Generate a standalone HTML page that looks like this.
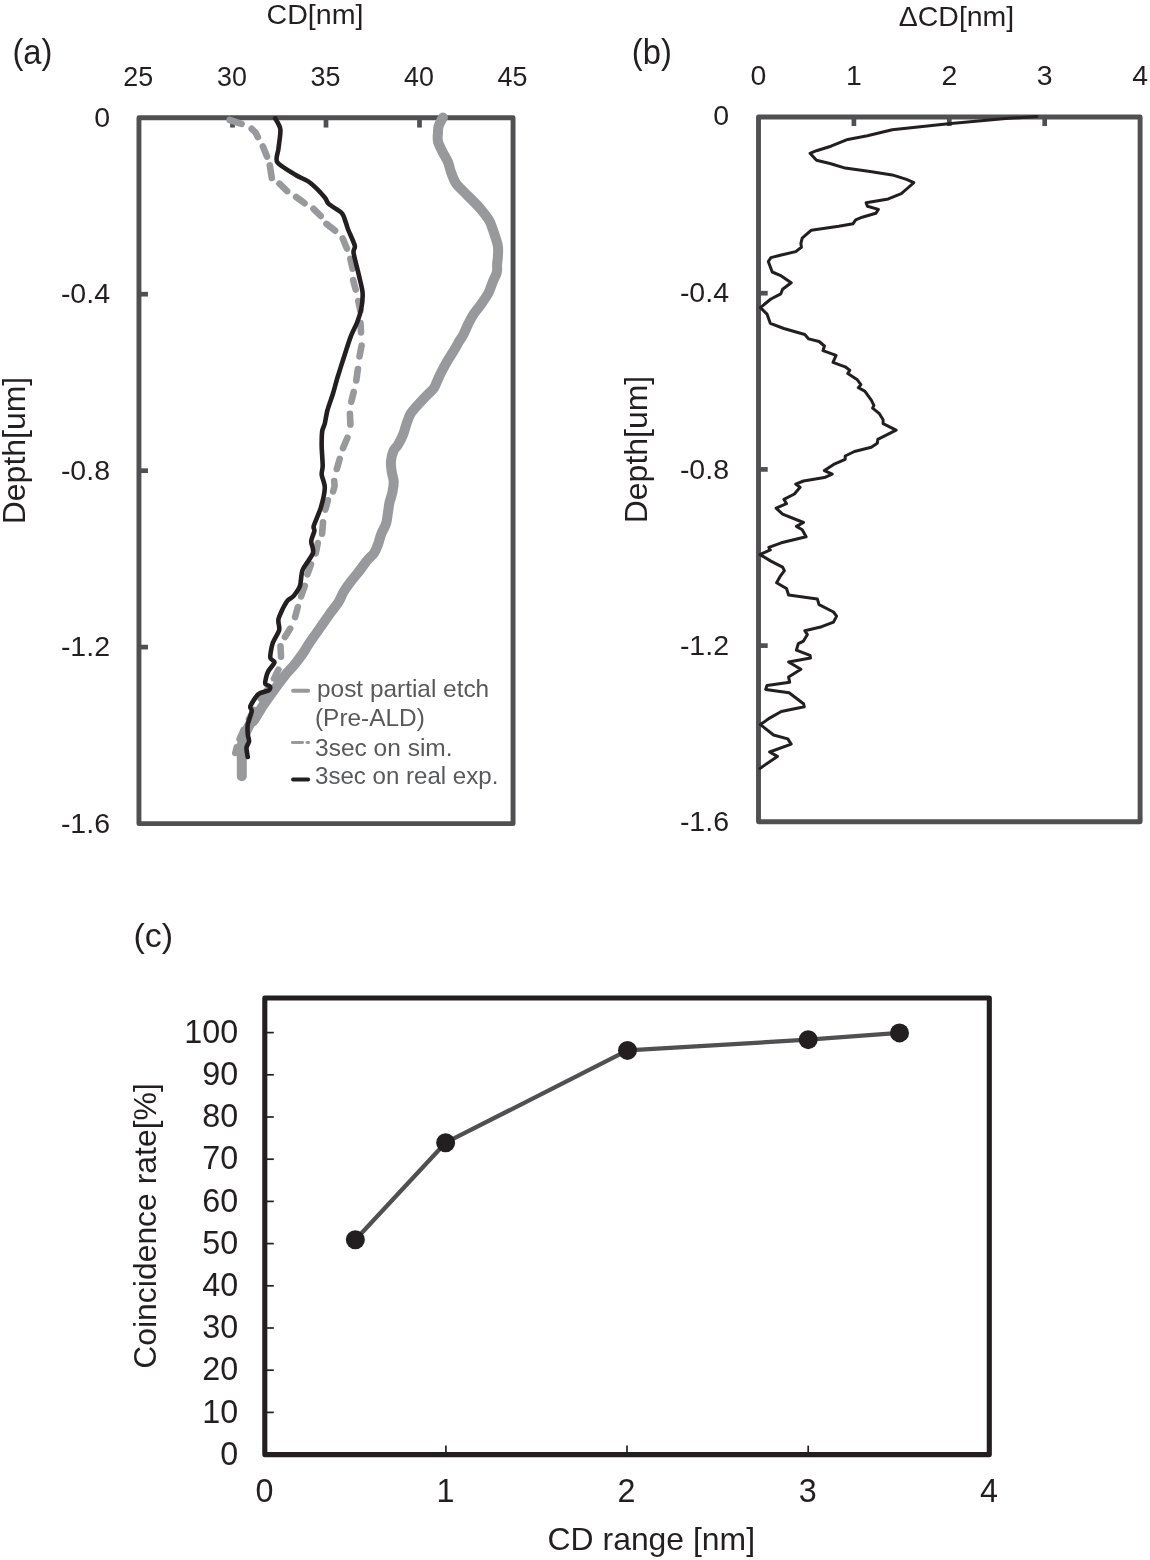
<!DOCTYPE html>
<html lang="en"><head><meta charset="utf-8"><title>Figure</title>
<style>
html,body{margin:0;padding:0;background:#fff}
svg{display:block}
text{font-family:"Liberation Sans",sans-serif}
</style></head><body>
<svg width="1150" height="1560" viewBox="0 0 1150 1560">
<rect width="1150" height="1560" fill="#fff"/>
<g id="panel-a">
<g stroke="#505053" stroke-width="4.7">
<line x1="232.5" y1="117.75" x2="232.5" y2="127.55"/>
<line x1="326.0" y1="117.75" x2="326.0" y2="127.55"/>
<line x1="419.5" y1="117.75" x2="419.5" y2="127.55"/>
<line x1="138.95" y1="294.2" x2="147.95" y2="294.2"/>
<line x1="138.95" y1="470.7" x2="147.95" y2="470.7"/>
<line x1="138.95" y1="647.1" x2="147.95" y2="647.1"/>
</g>
<rect x="138.95" y="117.75" width="374.1" height="705.9" fill="none" stroke="#505053" stroke-width="4.9" stroke-linejoin="round"/>
<path d="M442.9,117.5C442.2,118.9 439.5,123.5 438.7,125.9C437.9,128.3 438.1,129.5 438.0,132.1C437.9,134.7 437.2,138.2 438.0,141.5C438.8,144.8 440.9,148.5 442.6,152.0C444.3,155.5 446.7,158.9 448.1,162.4C449.5,165.9 449.9,169.3 451.2,172.8C452.5,176.3 454.0,180.3 455.9,183.3C457.8,186.3 460.2,188.0 462.7,190.6C465.2,193.2 467.9,195.8 471.0,198.9C474.1,202.0 478.0,205.9 481.0,209.4C484.0,212.9 487.1,217.1 488.8,219.8C490.5,222.5 490.4,222.7 491.4,225.4C492.4,228.1 493.9,232.4 495.0,235.9C496.1,239.4 497.4,242.8 497.9,246.3C498.4,249.8 498.0,253.8 497.9,256.7C497.8,259.6 497.3,261.4 497.1,264.0C496.9,266.6 497.6,269.3 496.8,272.4C496.0,275.5 493.8,279.3 492.4,282.8C491.0,286.3 490.1,289.8 488.3,293.3C486.5,296.8 483.9,300.2 481.5,303.7C479.1,307.2 476.0,310.6 473.7,314.1C471.4,317.6 469.6,321.1 467.9,324.6C466.1,328.1 464.6,332.4 463.2,335.0C461.8,337.6 461.3,337.8 459.7,340.4C458.1,343.0 455.8,347.4 453.7,350.9C451.6,354.4 449.2,357.8 447.2,361.3C445.2,364.8 443.1,368.6 441.5,371.7C439.9,374.8 438.9,377.3 437.6,380.1C436.3,382.9 435.4,386.0 433.7,388.4C432.0,390.8 429.8,392.3 427.4,394.7C425.0,397.1 422.4,399.9 419.6,403.0C416.8,406.1 412.9,410.0 410.7,413.5C408.5,417.0 407.8,420.4 406.5,423.9C405.2,427.4 404.6,430.9 403.2,434.4C401.8,437.9 399.6,442.1 398.0,444.8C396.4,447.5 394.9,447.7 393.7,450.4C392.5,453.1 391.4,457.4 391.0,460.9C390.6,464.4 391.2,467.8 391.6,471.3C392.1,474.8 393.6,478.2 393.7,481.7C393.8,485.2 393.1,488.7 392.4,492.2C391.7,495.7 390.2,499.1 389.5,502.6C388.8,506.1 388.5,509.5 387.9,513.0C387.3,516.5 387.2,520.0 386.1,523.5C385.0,527.0 382.7,530.4 381.3,533.9C379.9,537.4 379.2,541.3 378.0,544.4C376.8,547.5 376.1,550.0 374.3,552.7C372.5,555.4 369.7,557.4 367.2,560.4C364.7,563.4 362.1,567.4 359.4,570.9C356.7,574.4 353.6,577.8 351.0,581.3C348.4,584.8 345.8,588.2 343.7,591.7C341.6,595.2 340.7,598.7 338.5,602.2C336.3,605.7 333.2,609.1 330.7,612.6C328.2,616.1 325.8,619.5 323.4,623.0C321.0,626.5 318.5,630.0 316.1,633.5C313.7,637.0 311.1,640.4 308.8,643.9C306.5,647.4 304.6,650.9 302.2,654.4C299.8,657.9 296.6,662.0 294.3,664.8C292.0,667.6 290.2,669.1 288.4,671.3C286.5,673.5 285.8,674.4 283.2,677.8C280.6,681.2 276.2,687.1 272.8,691.7C269.4,696.3 266.1,701.0 263.0,705.6C259.9,710.2 256.6,716.6 254.5,719.6C252.4,722.6 251.7,721.5 250.3,723.5C249.0,725.5 247.6,728.7 246.4,731.3C245.2,733.9 243.8,736.5 243.0,739.1C242.2,741.7 242.1,743.0 241.9,746.9C241.7,750.8 241.8,757.7 241.8,762.6C241.8,767.5 241.8,774.0 241.8,776.3" fill="none" stroke="#97999c" stroke-width="10.0" stroke-linecap="round" stroke-linejoin="round"/>
<path d="M229.7,120.0L241.6,123.9M251.7,128.8L255.5,132.5L257.8,137.1M262.9,146.5L267.0,156.6M269.8,165.4L271.8,177.9M279.5,183.7L287.1,191.1M296.2,197.0L304.5,203.2M313.5,208.8L320.7,215.9M326.5,223.9L335.1,230.7M342.7,238.5L346.9,248.6M350.3,258.8L352.6,268.7M353.1,280.2L355.7,289.6M358.3,301.1L360.4,311.0M360.5,323.0L361.0,332.4M361.6,345.5L359.5,356.4M357.9,369.0L356.3,380.4M353.7,391.9L351.3,401.8M349.9,413.8L350.4,424.5M347.4,437.7L343.0,448.2M339.7,458.8L336.8,469.0M334.2,481.0L334.6,486.0L333.1,491.5M327.9,500.3L325.3,509.7M323.0,522.3L322.1,533.7M317.8,543.0L315.7,553.5M311.0,564.4L307.4,574.3M304.8,585.8L301.1,596.3M297.8,607.0L295.1,617.1M290.2,628.6L285.0,637.0M280.5,646.3L281.0,656.7M278.4,669.7L274.0,678.6M267.0,690.0L261.0,699.0M254.0,710.0L249.0,719.0M243.5,730.0L239.5,739.0M236.8,747.0L235.3,753.0" fill="none" stroke="#97999c" stroke-width="6.6" stroke-linecap="round" stroke-linejoin="round"/>
<path d="M275.2,118.3C275.9,119.8 280.0,125.5 280.4,129.6C280.8,133.7 278.8,144.8 278.4,149.1C278.0,153.4 274.9,158.7 277.3,162.2C279.7,165.7 291.7,172.4 296.1,175.2C300.5,178.0 306.6,180.0 310.4,183.0C314.2,186.0 322.4,194.6 324.8,197.4C327.2,200.2 326.4,201.8 328.7,203.9C331.0,206.0 339.4,210.6 341.7,213.0C344.0,215.4 344.8,219.9 345.7,222.2C346.6,224.5 347.1,226.9 348.3,230.0C349.5,233.1 354.1,242.7 354.8,245.7C355.5,248.7 353.2,249.1 353.5,252.2C353.8,255.3 356.5,265.4 357.4,269.1C358.3,272.8 359.3,276.8 360.0,280.0C360.7,283.2 362.4,289.2 362.6,293.0C362.8,296.8 362.0,304.9 361.3,308.7C360.6,312.5 358.8,318.0 357.4,321.7C356.0,325.4 352.6,331.6 350.9,336.1C349.2,340.6 346.1,350.3 344.4,355.7C342.7,361.1 339.4,371.3 337.8,376.5C336.2,381.7 334.0,390.3 332.6,394.8C331.2,399.3 328.4,406.6 327.4,410.4C326.4,414.2 325.5,420.7 324.8,423.5C324.1,426.3 322.6,428.2 322.2,431.3C321.8,434.4 321.6,442.4 321.7,447.0C321.8,451.6 322.7,462.0 322.7,465.7C322.7,469.4 321.4,471.9 321.7,474.8C322.0,477.7 324.9,483.5 324.8,487.8C324.7,492.1 322.4,502.3 320.9,507.4C319.4,512.5 314.7,522.6 313.8,525.7C312.9,528.8 314.7,528.8 314.4,530.9C314.1,533.0 311.4,538.4 311.2,541.3C311.0,544.2 314.1,549.2 313.0,553.0C311.9,556.8 304.3,565.6 302.6,570.0C300.9,574.4 301.2,582.2 300.0,585.7C298.8,589.2 295.2,594.0 293.5,596.1C291.8,598.2 288.9,598.5 287.0,601.3C285.1,604.1 280.2,614.2 279.1,617.0C278.0,619.8 278.4,620.2 278.4,622.0C278.4,623.8 279.9,627.5 279.1,630.4C278.3,633.3 273.8,639.9 272.6,643.5C271.4,647.1 270.0,655.2 270.3,657.7C270.6,660.2 274.8,660.6 274.5,662.4C274.2,664.2 269.3,669.3 268.2,671.3C267.1,673.3 266.5,675.7 266.1,677.4C265.7,679.1 264.8,682.7 265.3,683.9C265.8,685.1 269.5,685.6 270.0,686.5C270.5,687.4 270.3,689.4 268.7,690.4C267.1,691.4 260.7,692.2 258.3,694.3C255.9,696.4 251.3,703.8 250.4,706.1C249.5,708.4 252.0,708.9 251.7,711.3C251.4,713.7 248.3,721.2 247.8,724.3C247.3,727.4 247.6,732.5 247.8,734.8C248.0,737.1 249.3,739.6 249.1,741.3C248.9,743.0 246.7,745.7 246.5,747.8C246.3,749.9 247.6,755.8 247.8,757.0" fill="none" stroke="#231f20" stroke-width="4.6" stroke-linecap="round" stroke-linejoin="round"/>
<g fill="#231f20" font-size="28.4" text-anchor="middle">
<text x="138.3" y="85.8" textLength="29.9" lengthAdjust="spacingAndGlyphs">25</text>
<text x="231.9" y="85.8" textLength="29.9" lengthAdjust="spacingAndGlyphs">30</text>
<text x="325.4" y="85.8" textLength="29.9" lengthAdjust="spacingAndGlyphs">35</text>
<text x="418.9" y="85.8" textLength="29.9" lengthAdjust="spacingAndGlyphs">40</text>
<text x="512.4" y="85.8" textLength="29.9" lengthAdjust="spacingAndGlyphs">45</text>
</g>
<g fill="#231f20" font-size="28.5" text-anchor="end">
<text x="110" y="127.0">0</text>
<text x="110" y="303.4">-0.4</text>
<text x="110" y="479.9">-0.8</text>
<text x="110" y="656.3">-1.2</text>
<text x="110" y="832.8">-1.6</text>
</g>
<text x="315" y="23.8" font-size="28.4" text-anchor="middle" fill="#231f20" textLength="97" lengthAdjust="spacingAndGlyphs">CD[nm]</text>
<text transform="translate(25.2 450.5) rotate(-90)" font-size="31.2" text-anchor="middle" fill="#231f20" textLength="147.5" lengthAdjust="spacingAndGlyphs">Depth[um]</text>
<text x="12.4" y="64.1" font-size="34.5" fill="#231f20" textLength="40" lengthAdjust="spacingAndGlyphs">(a)</text>
<line x1="293" y1="690.7" x2="308.2" y2="690.7" stroke="#97999c" stroke-width="3.9" stroke-linecap="round"/>
<line x1="292.4" y1="742.5" x2="302.6" y2="742.5" stroke="#97999c" stroke-width="2.9" stroke-linecap="round"/>
<line x1="307" y1="742.5" x2="308.6" y2="742.5" stroke="#97999c" stroke-width="2.9" stroke-linecap="round"/>
<line x1="293" y1="779.5" x2="308.2" y2="779.5" stroke="#231f20" stroke-width="3.8" stroke-linecap="round"/>
<g fill="#58595b" font-size="24.4">
<text x="317" y="697.4">post partial etch</text>
<text x="315" y="726.1">(Pre-ALD)</text>
<text x="315" y="755.7" textLength="137.6" lengthAdjust="spacingAndGlyphs">3sec on sim.</text>
<text x="315" y="784.4" textLength="183.4" lengthAdjust="spacingAndGlyphs">3sec on real exp.</text>
</g>
</g>
<g id="panel-b">
<g stroke="#505053" stroke-width="4.7">
<line x1="853.9" y1="117.0" x2="853.9" y2="126.0"/>
<line x1="949.3" y1="117.0" x2="949.3" y2="126.0"/>
<line x1="1044.7" y1="117.0" x2="1044.7" y2="126.0"/>
<line x1="758.5" y1="293.2" x2="767.7" y2="293.2"/>
<line x1="758.5" y1="469.4" x2="767.7" y2="469.4"/>
<line x1="758.5" y1="645.6" x2="767.7" y2="645.6"/>
</g>
<rect x="758.5" y="117.0" width="381.6" height="704.8" fill="none" stroke="#505053" stroke-width="4.9" stroke-linejoin="round"/>
<polyline points="1037.0,116.5 1005.7,118.6 948.3,123.8 892.2,129.8 867.4,135.8 847.8,139.4 830.9,146.2 816.5,150.7 810.0,153.3 816.5,160.3 830.9,163.7 845.2,168.1 870.0,171.5 892.2,174.9 906.5,179.4 913.8,182.7 907.8,188.0 901.3,193.7 888.3,198.9 866.1,202.8 867.4,206.2 878.4,209.4 875.8,213.3 862.2,217.2 855.7,219.8 853.1,223.7 838.7,226.3 811.3,230.2 802.2,238.1 800.9,243.3 801.4,247.2 795.7,251.6 781.3,255.0 770.9,257.6 768.3,261.5 772.2,272.0 781.3,275.9 791.2,282.8 782.6,289.3 780.8,293.8 770.9,299.0 760.4,307.6 767.0,314.1 770.3,323.3 783.9,328.5 804.8,334.5 808.7,338.9 819.1,341.5 824.4,346.0 823.0,350.7 836.1,355.4 833.0,362.4 845.2,366.8 849.7,370.2 847.8,373.6 857.0,379.4 860.9,384.6 858.3,387.7 864.8,391.1 871.3,400.2 873.9,405.4 872.6,408.1 879.1,413.3 883.1,419.8 883.1,423.7 896.1,430.2 877.8,439.4 877.3,443.3 871.3,447.2 854.4,451.5 845.2,456.0 845.2,459.3 834.8,463.8 824.4,470.6 832.2,474.2 824.4,477.6 803.5,481.0 795.7,484.1 800.1,487.3 794.4,494.0 783.9,499.3 786.5,503.7 776.1,508.1 782.6,514.1 803.5,522.5 796.4,526.4 802.2,529.8 806.1,536.8 781.3,542.8 768.8,547.3 770.3,549.9 759.9,554.6 770.9,561.1 782.6,567.1 784.4,570.7 780.0,576.7 776.6,582.7 786.5,588.5 788.6,595.0 817.3,598.9 819.1,604.7 833.5,612.0 836.6,616.1 833.5,622.1 821.7,626.7 804.8,630.7 807.4,634.6 803.5,641.1 798.3,643.7 796.4,650.2 810.0,655.4 810.5,658.0 788.6,662.0 800.9,669.3 788.6,677.1 789.7,682.3 767.0,685.4 765.7,689.4 789.1,692.7 803.5,703.7 804.3,706.8 781.3,711.5 769.6,718.1 760.4,724.6 773.5,735.0 787.8,738.9 791.2,744.1 769.6,752.0 777.4,756.4 759.9,768.4" fill="none" stroke="#231f20" stroke-width="3.0" stroke-linecap="round" stroke-linejoin="round"/>
<g fill="#231f20" font-size="28.4" text-anchor="middle">
<text x="758.5" y="85.3">0</text>
<text x="853.9" y="85.3">1</text>
<text x="949.3" y="85.3">2</text>
<text x="1044.7" y="85.3">3</text>
<text x="1140.1" y="85.3">4</text>
</g>
<g fill="#231f20" font-size="28.5" text-anchor="end">
<text x="729" y="125.0">0</text>
<text x="729" y="302.4">-0.4</text>
<text x="729" y="478.6">-0.8</text>
<text x="729" y="654.8">-1.2</text>
<text x="729" y="831.0">-1.6</text>
</g>
<text x="956.5" y="25.8" font-size="27.8" text-anchor="middle" fill="#231f20" textLength="115.4" lengthAdjust="spacingAndGlyphs">ΔCD[nm]</text>
<text transform="translate(646.9 449.5) rotate(-90)" font-size="31.2" text-anchor="middle" fill="#231f20" textLength="147.5" lengthAdjust="spacingAndGlyphs">Depth[um]</text>
<text x="631.8" y="64.0" font-size="34.5" fill="#231f20" textLength="40" lengthAdjust="spacingAndGlyphs">(b)</text>
</g>
<g id="panel-c">
<g stroke="#231f20" stroke-width="1.7">
<line x1="445.9" y1="1454.6" x2="445.9" y2="1445.6"/>
<line x1="627.0" y1="1454.6" x2="627.0" y2="1445.6"/>
<line x1="808.2" y1="1454.6" x2="808.2" y2="1445.6"/>
<line x1="264.8" y1="1412.4" x2="273.8" y2="1412.4"/>
<line x1="264.8" y1="1370.2" x2="273.8" y2="1370.2"/>
<line x1="264.8" y1="1328.0" x2="273.8" y2="1328.0"/>
<line x1="264.8" y1="1285.8" x2="273.8" y2="1285.8"/>
<line x1="264.8" y1="1243.6" x2="273.8" y2="1243.6"/>
<line x1="264.8" y1="1201.4" x2="273.8" y2="1201.4"/>
<line x1="264.8" y1="1159.2" x2="273.8" y2="1159.2"/>
<line x1="264.8" y1="1117.0" x2="273.8" y2="1117.0"/>
<line x1="264.8" y1="1074.8" x2="273.8" y2="1074.8"/>
<line x1="264.8" y1="1032.6" x2="273.8" y2="1032.6"/>
</g>
<polyline points="355.4,1239.7 445.6,1142.7 627.5,1050.4 808.2,1039.7 899.5,1032.9" fill="none" stroke="#505053" stroke-width="4.3" stroke-linejoin="round"/>
<circle cx="355.35" cy="1239.7" r="9.5" fill="#231f20"/>
<circle cx="445.65" cy="1142.7" r="9.5" fill="#231f20"/>
<circle cx="627.5" cy="1050.4" r="9.5" fill="#231f20"/>
<circle cx="808.2" cy="1039.65" r="9.5" fill="#231f20"/>
<circle cx="899.5" cy="1032.9" r="9.5" fill="#231f20"/>
<rect x="264.8" y="998.0" width="724.5" height="456.6" fill="none" stroke="#231f20" stroke-width="5.1" stroke-linejoin="round"/>
<g fill="#231f20" font-size="32.3" text-anchor="middle">
<text x="264.4" y="1502.4">0</text>
<text x="445.5" y="1502.4">1</text>
<text x="626.6" y="1502.4">2</text>
<text x="807.8" y="1502.4">3</text>
<text x="988.9" y="1502.4">4</text>
</g>
<g fill="#231f20" font-size="32.3" text-anchor="end">
<text x="238.2" y="1464.8">0</text>
<text x="238.2" y="1422.6">10</text>
<text x="238.2" y="1380.4">20</text>
<text x="238.2" y="1338.2">30</text>
<text x="238.2" y="1296.0">40</text>
<text x="238.2" y="1253.8">50</text>
<text x="238.2" y="1211.6">60</text>
<text x="238.2" y="1169.4">70</text>
<text x="238.2" y="1127.2">80</text>
<text x="238.2" y="1085.0">90</text>
<text x="238.2" y="1042.8">100</text>
</g>
<text x="651.3" y="1549.7" font-size="31.6" text-anchor="middle" fill="#231f20" textLength="207.5" lengthAdjust="spacingAndGlyphs">CD range [nm]</text>
<text transform="translate(155.6 1226) rotate(-90)" font-size="31.6" text-anchor="middle" fill="#231f20" textLength="285.5" lengthAdjust="spacingAndGlyphs">Coincidence rate[%]</text>
<text x="133.5" y="947.2" font-size="34" fill="#231f20">(c)</text>
</g>
</svg></body></html>
